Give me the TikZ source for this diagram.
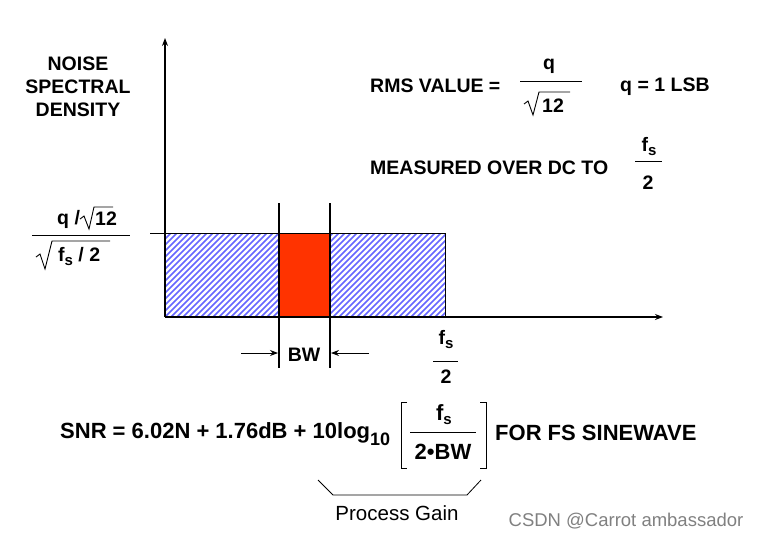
\documentclass[tikz,border=0pt]{standalone}
\usepackage{fontspec}
\setmainfont{Liberation Sans}
\usetikzlibrary{arrows.meta}
\newcommand{\mysub}[2]{#1\raisebox{-4pt}{\fontsize{15}{16}\selectfont #2}}
\begin{document}
\begin{tikzpicture}[x=1pt,y=-1pt,
  lbl/.style={font=\bfseries\fontsize{19.5}{22}\selectfont,inner sep=0pt},
  big/.style={font=\bfseries\fontsize{22}{24}\selectfont,inner sep=0pt},
  ax/.style={line width=1.2pt,-{Stealth[length=8pt,width=6pt]}},
  rad/.style={line width=0.9pt},
  thk/.style={line width=2.6pt}]
\useasboundingbox (0,0) rectangle (760,538);
% hatched area
\begin{scope}
\clip (165,233) rectangle (445,317);
\foreach \i in {0,6,...,400}{\draw[blue!60!white,line width=1.6pt] (165+\i-90,317) -- (165+\i,227);}
\end{scope}
\fill[fill={rgb,255:red,255;green,51;blue,0}] (279,233) rectangle (330,317);
\draw[line width=0.8pt] (150,233) -- (445,233) -- (445,317);
\coordinate (o) at (165,317);
\coordinate (ytop) at (165,38);
\coordinate (xend) at (663,317);
\draw[ax] (o) -- (ytop);
\draw[ax] (o) -- (xend);
\draw[thk] (279,203) -- (279,368);
\draw[thk] (330,203) -- (330,368);
\coordinate (al) at (241,353); \coordinate (alt) at (278,353);
\coordinate (ar) at (369,353); \coordinate (art) at (331,353);
\draw[line width=0.8pt,-{Stealth[length=8pt,width=6pt]}] (al) -- (alt);
\draw[line width=0.8pt,-{Stealth[length=8pt,width=6pt]}] (ar) -- (art);
\node[lbl] (bw) at (304,355) {BW};
% fs/2 below axis
\node[lbl] (fs1) at (446,340) {\mysub{f}{s}};
\draw[line width=0.8pt] (433,361) -- (458,361);
\node[lbl] (two1) at (446,377) {2};
% y-axis label
\node[lbl,align=center] (nsd) at (78,87) {NOISE\\[1pt]SPECTRAL\\[1pt]DENSITY};
% left fraction
\node[lbl,anchor=west] (qs) at (57,219) {q /};
\draw[rad] (80,219) -- (84,216) -- (89,229) -- (94,207) -- (113,207);
\node[lbl,anchor=west] (q12) at (95,219) {12};
\draw[line width=0.8pt] (32,235) -- (130,235);
\draw[rad] (36,257) -- (40,254) -- (45,269) -- (52,241) -- (110,241);
\node[lbl,anchor=west] (fs2) at (58,257) {\mysub{f}{s} / 2};
% RMS
\node[lbl,anchor=west] (rms) at (370,86) {RMS VALUE =};
\node[lbl] (q) at (549,66) {q};
\draw[line width=0.8pt] (520,81) -- (582,81);
\draw[rad] (524,104) -- (528,101) -- (533,115) -- (539,92) -- (570,92);
\node[lbl] (r12) at (553,106) {12};
\node[lbl,anchor=west] (lsb) at (620,87) {q = 1 LSB};
\node[lbl,anchor=west] (meas) at (370,168) {MEASURED OVER DC TO};
\node[lbl] (fs3) at (649,147) {\mysub{f}{s}};
\draw[line width=0.8pt] (635,161) -- (662,161);
\node[lbl] (two3) at (648,183) {2};
% SNR
\node[big,anchor=west] (snr) at (60,434) {SNR = 6.02N + 1.76dB + 10log\raisebox{-7pt}{\fontsize{18}{20}\selectfont 10}};
\draw[line width=0.8pt] (407,402) -- (401,402) -- (401,468) -- (407,468);
\draw[line width=0.8pt] (480,402) -- (486,402) -- (486,468) -- (480,468);
\node[big] (fs4) at (444,415) {\mysub{f}{s}};
\draw[line width=0.8pt] (410,432) -- (476,432);
\node[big] (bw2) at (443,452) {2\textbullet BW};
\node[big,anchor=west] (for) at (495,433) {FOR FS SINEWAVE};
\draw[line width=0.8pt] (318,480) -- (333,495) -- (467,495) -- (481,480);
\node[font=\fontsize{20.5}{22}\selectfont,inner sep=0pt] (pg) at (397,513) {Process Gain};
\node[font=\fontsize{18.5}{20}\selectfont,text=gray,inner sep=0pt] (wm) at (626,521) {CSDN @Carrot ambassador};
\end{tikzpicture}
\end{document}
